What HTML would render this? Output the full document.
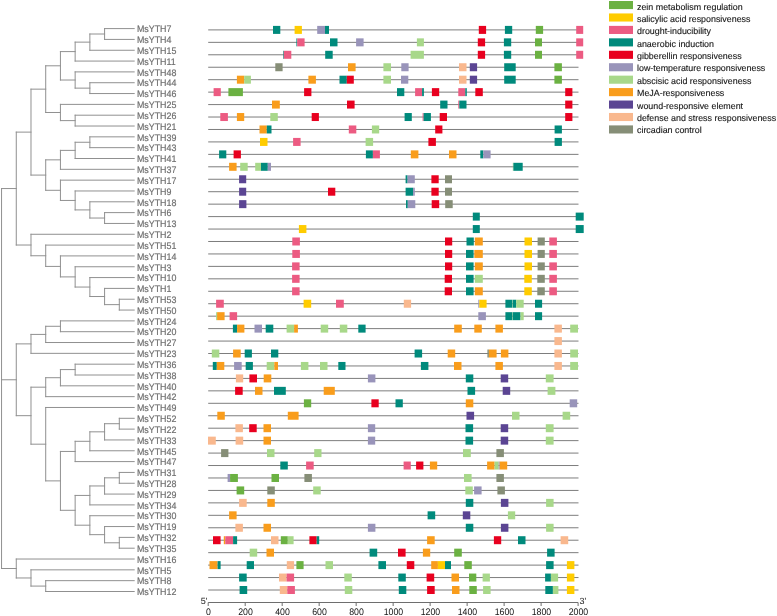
<!DOCTYPE html><html><head><meta charset="utf-8"><title>MsYTH cis-elements</title><style>html,body{margin:0;padding:0;background:#fff;width:777px;height:616px;overflow:hidden}svg{display:block}text{font-family:"Liberation Sans",Arial,sans-serif;text-rendering:geometricPrecision}</style></head><body>
<svg width="777" height="616" viewBox="0 0 777 616">
<rect width="777" height="616" fill="#fff"/>
<g stroke="#909090" stroke-width="1" fill="none" stroke-linecap="square">
<line x1="104.59" y1="28.60" x2="134.20" y2="28.60"/>
<line x1="104.59" y1="39.42" x2="134.20" y2="39.42"/>
<line x1="104.59" y1="28.60" x2="104.59" y2="39.42"/>
<line x1="89.87" y1="34.01" x2="104.59" y2="34.01"/>
<line x1="89.87" y1="50.25" x2="134.20" y2="50.25"/>
<line x1="89.87" y1="34.01" x2="89.87" y2="50.25"/>
<line x1="75.15" y1="42.13" x2="89.87" y2="42.13"/>
<line x1="75.15" y1="61.07" x2="134.20" y2="61.07"/>
<line x1="75.15" y1="42.13" x2="75.15" y2="61.07"/>
<line x1="60.43" y1="51.60" x2="75.15" y2="51.60"/>
<line x1="75.15" y1="71.90" x2="134.20" y2="71.90"/>
<line x1="89.87" y1="82.72" x2="134.20" y2="82.72"/>
<line x1="89.87" y1="93.55" x2="134.20" y2="93.55"/>
<line x1="89.87" y1="82.72" x2="89.87" y2="93.55"/>
<line x1="75.15" y1="88.14" x2="89.87" y2="88.14"/>
<line x1="75.15" y1="71.90" x2="75.15" y2="88.14"/>
<line x1="60.43" y1="80.02" x2="75.15" y2="80.02"/>
<line x1="60.43" y1="51.60" x2="60.43" y2="80.02"/>
<line x1="45.71" y1="65.81" x2="60.43" y2="65.81"/>
<line x1="60.43" y1="104.38" x2="134.20" y2="104.38"/>
<line x1="75.15" y1="115.20" x2="134.20" y2="115.20"/>
<line x1="75.15" y1="126.03" x2="134.20" y2="126.03"/>
<line x1="75.15" y1="115.20" x2="75.15" y2="126.03"/>
<line x1="60.43" y1="120.61" x2="75.15" y2="120.61"/>
<line x1="60.43" y1="104.38" x2="60.43" y2="120.61"/>
<line x1="45.71" y1="112.49" x2="60.43" y2="112.49"/>
<line x1="45.71" y1="65.81" x2="45.71" y2="112.49"/>
<line x1="30.99" y1="89.15" x2="45.71" y2="89.15"/>
<line x1="89.87" y1="136.85" x2="134.20" y2="136.85"/>
<line x1="89.87" y1="147.67" x2="134.20" y2="147.67"/>
<line x1="89.87" y1="136.85" x2="89.87" y2="147.67"/>
<line x1="75.15" y1="142.26" x2="89.87" y2="142.26"/>
<line x1="75.15" y1="158.50" x2="134.20" y2="158.50"/>
<line x1="75.15" y1="142.26" x2="75.15" y2="158.50"/>
<line x1="60.43" y1="150.38" x2="75.15" y2="150.38"/>
<line x1="60.43" y1="169.32" x2="134.20" y2="169.32"/>
<line x1="60.43" y1="150.38" x2="60.43" y2="169.32"/>
<line x1="45.71" y1="159.85" x2="60.43" y2="159.85"/>
<line x1="60.43" y1="180.15" x2="134.20" y2="180.15"/>
<line x1="75.15" y1="190.97" x2="134.20" y2="190.97"/>
<line x1="89.87" y1="201.80" x2="134.20" y2="201.80"/>
<line x1="104.59" y1="212.62" x2="134.20" y2="212.62"/>
<line x1="104.59" y1="223.45" x2="134.20" y2="223.45"/>
<line x1="104.59" y1="212.62" x2="104.59" y2="223.45"/>
<line x1="89.87" y1="218.04" x2="104.59" y2="218.04"/>
<line x1="89.87" y1="201.80" x2="89.87" y2="218.04"/>
<line x1="75.15" y1="209.92" x2="89.87" y2="209.92"/>
<line x1="75.15" y1="190.97" x2="75.15" y2="209.92"/>
<line x1="60.43" y1="200.45" x2="75.15" y2="200.45"/>
<line x1="60.43" y1="180.15" x2="60.43" y2="200.45"/>
<line x1="45.71" y1="190.30" x2="60.43" y2="190.30"/>
<line x1="45.71" y1="159.85" x2="45.71" y2="190.30"/>
<line x1="30.99" y1="175.08" x2="45.71" y2="175.08"/>
<line x1="30.99" y1="89.15" x2="30.99" y2="175.08"/>
<line x1="16.27" y1="132.11" x2="30.99" y2="132.11"/>
<line x1="30.99" y1="234.27" x2="134.20" y2="234.27"/>
<line x1="45.71" y1="245.10" x2="134.20" y2="245.10"/>
<line x1="60.43" y1="255.92" x2="134.20" y2="255.92"/>
<line x1="75.15" y1="266.75" x2="134.20" y2="266.75"/>
<line x1="89.87" y1="277.57" x2="134.20" y2="277.57"/>
<line x1="104.59" y1="288.40" x2="134.20" y2="288.40"/>
<line x1="119.31" y1="299.23" x2="134.20" y2="299.23"/>
<line x1="119.31" y1="310.05" x2="134.20" y2="310.05"/>
<line x1="119.31" y1="299.23" x2="119.31" y2="310.05"/>
<line x1="104.59" y1="304.64" x2="119.31" y2="304.64"/>
<line x1="104.59" y1="288.40" x2="104.59" y2="304.64"/>
<line x1="89.87" y1="296.52" x2="104.59" y2="296.52"/>
<line x1="89.87" y1="277.57" x2="89.87" y2="296.52"/>
<line x1="75.15" y1="287.05" x2="89.87" y2="287.05"/>
<line x1="75.15" y1="266.75" x2="75.15" y2="287.05"/>
<line x1="60.43" y1="276.90" x2="75.15" y2="276.90"/>
<line x1="60.43" y1="255.92" x2="60.43" y2="276.90"/>
<line x1="45.71" y1="266.41" x2="60.43" y2="266.41"/>
<line x1="45.71" y1="245.10" x2="45.71" y2="266.41"/>
<line x1="30.99" y1="255.76" x2="45.71" y2="255.76"/>
<line x1="30.99" y1="234.27" x2="30.99" y2="255.76"/>
<line x1="16.27" y1="245.02" x2="30.99" y2="245.02"/>
<line x1="16.27" y1="132.11" x2="16.27" y2="245.02"/>
<line x1="1.55" y1="188.56" x2="16.27" y2="188.56"/>
<line x1="60.43" y1="320.88" x2="134.20" y2="320.88"/>
<line x1="60.43" y1="331.70" x2="134.20" y2="331.70"/>
<line x1="60.43" y1="320.88" x2="60.43" y2="331.70"/>
<line x1="45.71" y1="326.29" x2="60.43" y2="326.29"/>
<line x1="45.71" y1="342.52" x2="134.20" y2="342.52"/>
<line x1="45.71" y1="326.29" x2="45.71" y2="342.52"/>
<line x1="30.99" y1="334.41" x2="45.71" y2="334.41"/>
<line x1="30.99" y1="353.35" x2="134.20" y2="353.35"/>
<line x1="30.99" y1="334.41" x2="30.99" y2="353.35"/>
<line x1="16.27" y1="343.88" x2="30.99" y2="343.88"/>
<line x1="75.15" y1="364.18" x2="134.20" y2="364.18"/>
<line x1="75.15" y1="375.00" x2="134.20" y2="375.00"/>
<line x1="75.15" y1="364.18" x2="75.15" y2="375.00"/>
<line x1="60.43" y1="369.59" x2="75.15" y2="369.59"/>
<line x1="60.43" y1="385.82" x2="134.20" y2="385.82"/>
<line x1="60.43" y1="369.59" x2="60.43" y2="385.82"/>
<line x1="45.71" y1="377.71" x2="60.43" y2="377.71"/>
<line x1="45.71" y1="396.65" x2="134.20" y2="396.65"/>
<line x1="45.71" y1="377.71" x2="45.71" y2="396.65"/>
<line x1="30.99" y1="387.18" x2="45.71" y2="387.18"/>
<line x1="45.71" y1="407.48" x2="134.20" y2="407.48"/>
<line x1="119.31" y1="418.30" x2="134.20" y2="418.30"/>
<line x1="119.31" y1="429.12" x2="134.20" y2="429.12"/>
<line x1="119.31" y1="418.30" x2="119.31" y2="429.12"/>
<line x1="104.59" y1="423.71" x2="119.31" y2="423.71"/>
<line x1="104.59" y1="439.95" x2="134.20" y2="439.95"/>
<line x1="104.59" y1="423.71" x2="104.59" y2="439.95"/>
<line x1="89.87" y1="431.83" x2="104.59" y2="431.83"/>
<line x1="89.87" y1="450.77" x2="134.20" y2="450.77"/>
<line x1="89.87" y1="431.83" x2="89.87" y2="450.77"/>
<line x1="75.15" y1="441.30" x2="89.87" y2="441.30"/>
<line x1="75.15" y1="461.60" x2="134.20" y2="461.60"/>
<line x1="75.15" y1="441.30" x2="75.15" y2="461.60"/>
<line x1="60.43" y1="451.45" x2="75.15" y2="451.45"/>
<line x1="119.31" y1="472.43" x2="134.20" y2="472.43"/>
<line x1="119.31" y1="483.25" x2="134.20" y2="483.25"/>
<line x1="119.31" y1="472.43" x2="119.31" y2="483.25"/>
<line x1="104.59" y1="477.84" x2="119.31" y2="477.84"/>
<line x1="104.59" y1="494.07" x2="134.20" y2="494.07"/>
<line x1="104.59" y1="477.84" x2="104.59" y2="494.07"/>
<line x1="89.87" y1="485.96" x2="104.59" y2="485.96"/>
<line x1="89.87" y1="504.90" x2="134.20" y2="504.90"/>
<line x1="89.87" y1="485.96" x2="89.87" y2="504.90"/>
<line x1="75.15" y1="495.43" x2="89.87" y2="495.43"/>
<line x1="89.87" y1="515.72" x2="134.20" y2="515.72"/>
<line x1="104.59" y1="526.55" x2="134.20" y2="526.55"/>
<line x1="119.31" y1="537.38" x2="134.20" y2="537.38"/>
<line x1="119.31" y1="548.20" x2="134.20" y2="548.20"/>
<line x1="119.31" y1="537.38" x2="119.31" y2="548.20"/>
<line x1="104.59" y1="542.79" x2="119.31" y2="542.79"/>
<line x1="104.59" y1="526.55" x2="104.59" y2="542.79"/>
<line x1="89.87" y1="534.67" x2="104.59" y2="534.67"/>
<line x1="89.87" y1="515.72" x2="89.87" y2="534.67"/>
<line x1="75.15" y1="525.20" x2="89.87" y2="525.20"/>
<line x1="75.15" y1="495.43" x2="75.15" y2="525.20"/>
<line x1="60.43" y1="510.31" x2="75.15" y2="510.31"/>
<line x1="60.43" y1="451.45" x2="60.43" y2="510.31"/>
<line x1="45.71" y1="480.88" x2="60.43" y2="480.88"/>
<line x1="45.71" y1="407.48" x2="45.71" y2="480.88"/>
<line x1="30.99" y1="444.18" x2="45.71" y2="444.18"/>
<line x1="30.99" y1="387.18" x2="30.99" y2="444.18"/>
<line x1="16.27" y1="415.68" x2="30.99" y2="415.68"/>
<line x1="16.27" y1="343.88" x2="16.27" y2="415.68"/>
<line x1="1.55" y1="379.78" x2="16.27" y2="379.78"/>
<line x1="16.27" y1="559.02" x2="134.20" y2="559.02"/>
<line x1="30.99" y1="569.85" x2="134.20" y2="569.85"/>
<line x1="45.71" y1="580.67" x2="134.20" y2="580.67"/>
<line x1="45.71" y1="591.50" x2="134.20" y2="591.50"/>
<line x1="45.71" y1="580.67" x2="45.71" y2="591.50"/>
<line x1="30.99" y1="586.09" x2="45.71" y2="586.09"/>
<line x1="30.99" y1="569.85" x2="30.99" y2="586.09"/>
<line x1="16.27" y1="577.97" x2="30.99" y2="577.97"/>
<line x1="16.27" y1="559.02" x2="16.27" y2="577.97"/>
<line x1="1.55" y1="568.50" x2="16.27" y2="568.50"/>
<line x1="1.55" y1="188.56" x2="1.55" y2="568.50"/>
</g>
<g fill="#6e6e6e" stroke="#6e6e6e" stroke-width="0.18" font-size="8.9">
<text transform="translate(136.9,32.35) scale(1,1.06)">MsYTH7</text>
<text transform="translate(136.9,43.17) scale(1,1.06)">MsYTH4</text>
<text transform="translate(136.9,54.00) scale(1,1.06)">MsYTH15</text>
<text transform="translate(136.9,64.82) scale(1,1.06)">MsYTH11</text>
<text transform="translate(136.9,75.65) scale(1,1.06)">MsYTH48</text>
<text transform="translate(136.9,86.47) scale(1,1.06)">MsYTH44</text>
<text transform="translate(136.9,97.30) scale(1,1.06)">MsYTH46</text>
<text transform="translate(136.9,108.12) scale(1,1.06)">MsYTH25</text>
<text transform="translate(136.9,118.95) scale(1,1.06)">MsYTH26</text>
<text transform="translate(136.9,129.78) scale(1,1.06)">MsYTH21</text>
<text transform="translate(136.9,140.60) scale(1,1.06)">MsYTH39</text>
<text transform="translate(136.9,151.42) scale(1,1.06)">MsYTH43</text>
<text transform="translate(136.9,162.25) scale(1,1.06)">MsYTH41</text>
<text transform="translate(136.9,173.07) scale(1,1.06)">MsYTH37</text>
<text transform="translate(136.9,183.90) scale(1,1.06)">MsYTH17</text>
<text transform="translate(136.9,194.72) scale(1,1.06)">MsYTH9</text>
<text transform="translate(136.9,205.55) scale(1,1.06)">MsYTH18</text>
<text transform="translate(136.9,216.37) scale(1,1.06)">MsYTH6</text>
<text transform="translate(136.9,227.20) scale(1,1.06)">MsYTH13</text>
<text transform="translate(136.9,238.02) scale(1,1.06)">MsYTH2</text>
<text transform="translate(136.9,248.85) scale(1,1.06)">MsYTH51</text>
<text transform="translate(136.9,259.67) scale(1,1.06)">MsYTH14</text>
<text transform="translate(136.9,270.50) scale(1,1.06)">MsYTH3</text>
<text transform="translate(136.9,281.32) scale(1,1.06)">MsYTH10</text>
<text transform="translate(136.9,292.15) scale(1,1.06)">MsYTH1</text>
<text transform="translate(136.9,302.98) scale(1,1.06)">MsYTH53</text>
<text transform="translate(136.9,313.80) scale(1,1.06)">MsYTH50</text>
<text transform="translate(136.9,324.62) scale(1,1.06)">MsYTH24</text>
<text transform="translate(136.9,335.45) scale(1,1.06)">MsYTH20</text>
<text transform="translate(136.9,346.27) scale(1,1.06)">MsYTH27</text>
<text transform="translate(136.9,357.10) scale(1,1.06)">MsYTH23</text>
<text transform="translate(136.9,367.93) scale(1,1.06)">MsYTH36</text>
<text transform="translate(136.9,378.75) scale(1,1.06)">MsYTH38</text>
<text transform="translate(136.9,389.57) scale(1,1.06)">MsYTH40</text>
<text transform="translate(136.9,400.40) scale(1,1.06)">MsYTH42</text>
<text transform="translate(136.9,411.23) scale(1,1.06)">MsYTH49</text>
<text transform="translate(136.9,422.05) scale(1,1.06)">MsYTH52</text>
<text transform="translate(136.9,432.88) scale(1,1.06)">MsYTH22</text>
<text transform="translate(136.9,443.70) scale(1,1.06)">MsYTH33</text>
<text transform="translate(136.9,454.52) scale(1,1.06)">MsYTH45</text>
<text transform="translate(136.9,465.35) scale(1,1.06)">MsYTH47</text>
<text transform="translate(136.9,476.18) scale(1,1.06)">MsYTH31</text>
<text transform="translate(136.9,487.00) scale(1,1.06)">MsYTH28</text>
<text transform="translate(136.9,497.82) scale(1,1.06)">MsYTH29</text>
<text transform="translate(136.9,508.65) scale(1,1.06)">MsYTH34</text>
<text transform="translate(136.9,519.47) scale(1,1.06)">MsYTH30</text>
<text transform="translate(136.9,530.30) scale(1,1.06)">MsYTH19</text>
<text transform="translate(136.9,541.12) scale(1,1.06)">MsYTH32</text>
<text transform="translate(136.9,551.95) scale(1,1.06)">MsYTH35</text>
<text transform="translate(136.9,562.77) scale(1,1.06)">MsYTH16</text>
<text transform="translate(136.9,573.60) scale(1,1.06)">MsYTH5</text>
<text transform="translate(136.9,584.42) scale(1,1.06)">MsYTH8</text>
<text transform="translate(136.9,595.25) scale(1,1.06)">MsYTH12</text>
</g>
<g stroke="#7d7d7d" stroke-width="1">
<line x1="208.2" y1="29.90" x2="578.5" y2="29.90"/>
<line x1="208.2" y1="42.35" x2="578.5" y2="42.35"/>
<line x1="208.2" y1="54.79" x2="578.5" y2="54.79"/>
<line x1="208.2" y1="67.24" x2="578.5" y2="67.24"/>
<line x1="208.2" y1="79.69" x2="578.5" y2="79.69"/>
<line x1="208.2" y1="92.13" x2="578.5" y2="92.13"/>
<line x1="208.2" y1="104.58" x2="578.5" y2="104.58"/>
<line x1="208.2" y1="117.03" x2="578.5" y2="117.03"/>
<line x1="208.2" y1="129.47" x2="578.5" y2="129.47"/>
<line x1="208.2" y1="141.92" x2="578.5" y2="141.92"/>
<line x1="208.2" y1="154.37" x2="578.5" y2="154.37"/>
<line x1="208.2" y1="166.81" x2="578.5" y2="166.81"/>
<line x1="208.2" y1="179.26" x2="578.5" y2="179.26"/>
<line x1="208.2" y1="191.71" x2="578.5" y2="191.71"/>
<line x1="208.2" y1="204.15" x2="578.5" y2="204.15"/>
<line x1="208.2" y1="216.60" x2="578.5" y2="216.60"/>
<line x1="208.2" y1="229.05" x2="578.5" y2="229.05"/>
<line x1="208.2" y1="241.49" x2="578.5" y2="241.49"/>
<line x1="208.2" y1="253.94" x2="578.5" y2="253.94"/>
<line x1="208.2" y1="266.39" x2="578.5" y2="266.39"/>
<line x1="208.2" y1="278.83" x2="578.5" y2="278.83"/>
<line x1="208.2" y1="291.28" x2="578.5" y2="291.28"/>
<line x1="208.2" y1="303.73" x2="578.5" y2="303.73"/>
<line x1="208.2" y1="316.17" x2="578.5" y2="316.17"/>
<line x1="208.2" y1="328.62" x2="578.5" y2="328.62"/>
<line x1="208.2" y1="341.07" x2="578.5" y2="341.07"/>
<line x1="208.2" y1="353.51" x2="578.5" y2="353.51"/>
<line x1="208.2" y1="365.96" x2="578.5" y2="365.96"/>
<line x1="208.2" y1="378.41" x2="578.5" y2="378.41"/>
<line x1="208.2" y1="390.85" x2="578.5" y2="390.85"/>
<line x1="208.2" y1="403.30" x2="578.5" y2="403.30"/>
<line x1="208.2" y1="415.75" x2="578.5" y2="415.75"/>
<line x1="208.2" y1="428.19" x2="578.5" y2="428.19"/>
<line x1="208.2" y1="440.64" x2="578.5" y2="440.64"/>
<line x1="208.2" y1="453.09" x2="578.5" y2="453.09"/>
<line x1="208.2" y1="465.53" x2="578.5" y2="465.53"/>
<line x1="208.2" y1="477.98" x2="578.5" y2="477.98"/>
<line x1="208.2" y1="490.43" x2="578.5" y2="490.43"/>
<line x1="208.2" y1="502.87" x2="578.5" y2="502.87"/>
<line x1="208.2" y1="515.32" x2="578.5" y2="515.32"/>
<line x1="208.2" y1="527.77" x2="578.5" y2="527.77"/>
<line x1="208.2" y1="540.21" x2="578.5" y2="540.21"/>
<line x1="208.2" y1="552.66" x2="578.5" y2="552.66"/>
<line x1="208.2" y1="565.11" x2="578.5" y2="565.11"/>
<line x1="208.2" y1="577.55" x2="578.5" y2="577.55"/>
<line x1="208.2" y1="590.00" x2="578.5" y2="590.00"/>
</g>
<g>
<rect x="273.0" y="25.90" width="7.3" height="8.0" fill="#008a7c"/>
<rect x="294.6" y="25.90" width="7.3" height="8.0" fill="#ffcc00"/>
<rect x="317.2" y="25.90" width="7.8" height="8.0" fill="#9994ba"/>
<rect x="325.0" y="25.90" width="4.0" height="8.0" fill="#008a7c"/>
<rect x="478.8" y="25.90" width="7.3" height="8.0" fill="#e8001f"/>
<rect x="504.9" y="25.90" width="7.3" height="8.0" fill="#008a7c"/>
<rect x="535.8" y="25.90" width="7.3" height="8.0" fill="#6bb142"/>
<rect x="576.2" y="25.90" width="7.0" height="8.0" fill="#ec5b82"/>
<rect x="296.4" y="38.35" width="0.8" height="8.0" fill="#008a7c"/>
<rect x="297.2" y="38.35" width="7.4" height="8.0" fill="#ec5b82"/>
<rect x="330.0" y="38.35" width="7.5" height="8.0" fill="#008a7c"/>
<rect x="356.1" y="38.35" width="7.5" height="8.0" fill="#9994ba"/>
<rect x="416.9" y="38.35" width="7.0" height="8.0" fill="#a8d88a"/>
<rect x="477.8" y="38.35" width="7.3" height="8.0" fill="#e8001f"/>
<rect x="503.9" y="38.35" width="7.3" height="8.0" fill="#008a7c"/>
<rect x="535.0" y="38.35" width="7.0" height="8.0" fill="#6bb142"/>
<rect x="576.2" y="38.35" width="7.0" height="8.0" fill="#ec5b82"/>
<rect x="283.1" y="50.79" width="0.7" height="8.0" fill="#008a7c"/>
<rect x="283.8" y="50.79" width="7.5" height="8.0" fill="#ec5b82"/>
<rect x="325.2" y="50.79" width="7.5" height="8.0" fill="#008a7c"/>
<rect x="410.6" y="50.79" width="13.3" height="8.0" fill="#a8d88a"/>
<rect x="477.8" y="50.79" width="7.3" height="8.0" fill="#e8001f"/>
<rect x="503.9" y="50.79" width="7.3" height="8.0" fill="#008a7c"/>
<rect x="535.0" y="50.79" width="7.0" height="8.0" fill="#6bb142"/>
<rect x="576.2" y="50.79" width="7.0" height="8.0" fill="#ec5b82"/>
<rect x="275.3" y="63.24" width="7.3" height="8.0" fill="#868e77"/>
<rect x="348.0" y="63.24" width="7.6" height="8.0" fill="#f99d1c"/>
<rect x="383.4" y="63.24" width="7.6" height="8.0" fill="#a8d88a"/>
<rect x="401.3" y="63.24" width="7.3" height="8.0" fill="#9994ba"/>
<rect x="459.0" y="63.24" width="7.5" height="8.0" fill="#f9b88e"/>
<rect x="469.8" y="63.24" width="7.3" height="8.0" fill="#5b4593"/>
<rect x="504.2" y="63.24" width="11.5" height="8.0" fill="#008a7c"/>
<rect x="554.4" y="63.24" width="7.5" height="8.0" fill="#6bb142"/>
<rect x="236.9" y="75.69" width="7.3" height="8.0" fill="#f99d1c"/>
<rect x="244.2" y="75.69" width="6.7" height="8.0" fill="#a8d88a"/>
<rect x="308.4" y="75.69" width="7.5" height="8.0" fill="#f99d1c"/>
<rect x="339.5" y="75.69" width="7.3" height="8.0" fill="#008a7c"/>
<rect x="346.8" y="75.69" width="7.0" height="8.0" fill="#e8001f"/>
<rect x="383.4" y="75.69" width="7.6" height="8.0" fill="#a8d88a"/>
<rect x="401.0" y="75.69" width="7.3" height="8.0" fill="#9994ba"/>
<rect x="459.0" y="75.69" width="7.5" height="8.0" fill="#f9b88e"/>
<rect x="469.8" y="75.69" width="7.3" height="8.0" fill="#5b4593"/>
<rect x="504.2" y="75.69" width="11.5" height="8.0" fill="#008a7c"/>
<rect x="554.4" y="75.69" width="7.5" height="8.0" fill="#6bb142"/>
<rect x="213.6" y="88.13" width="7.2" height="8.0" fill="#ec5b82"/>
<rect x="228.4" y="88.13" width="14.5" height="8.0" fill="#6bb142"/>
<rect x="304.1" y="88.13" width="7.3" height="8.0" fill="#e8001f"/>
<rect x="397.0" y="88.13" width="7.3" height="8.0" fill="#008a7c"/>
<rect x="415.1" y="88.13" width="7.0" height="8.0" fill="#ec5b82"/>
<rect x="422.1" y="88.13" width="1.8" height="8.0" fill="#008a7c"/>
<rect x="431.9" y="88.13" width="7.3" height="8.0" fill="#e8001f"/>
<rect x="458.3" y="88.13" width="7.0" height="8.0" fill="#ec5b82"/>
<rect x="465.3" y="88.13" width="1.5" height="8.0" fill="#008a7c"/>
<rect x="475.3" y="88.13" width="7.5" height="8.0" fill="#e8001f"/>
<rect x="565.2" y="88.13" width="7.2" height="8.0" fill="#e8001f"/>
<rect x="272.0" y="100.58" width="7.8" height="8.0" fill="#f99d1c"/>
<rect x="347.0" y="100.58" width="7.6" height="8.0" fill="#e8001f"/>
<rect x="440.2" y="100.58" width="7.3" height="8.0" fill="#008a7c"/>
<rect x="458.3" y="100.58" width="1.0" height="8.0" fill="#ec5b82"/>
<rect x="459.3" y="100.58" width="7.2" height="8.0" fill="#008a7c"/>
<rect x="565.2" y="100.58" width="7.2" height="8.0" fill="#e8001f"/>
<rect x="220.3" y="113.03" width="7.6" height="8.0" fill="#ec5b82"/>
<rect x="236.9" y="113.03" width="7.3" height="8.0" fill="#f99d1c"/>
<rect x="270.3" y="113.03" width="7.5" height="8.0" fill="#a8d88a"/>
<rect x="311.7" y="113.03" width="7.2" height="8.0" fill="#e8001f"/>
<rect x="404.6" y="113.03" width="7.2" height="8.0" fill="#008a7c"/>
<rect x="422.6" y="113.03" width="1.0" height="8.0" fill="#ec5b82"/>
<rect x="423.6" y="113.03" width="7.3" height="8.0" fill="#008a7c"/>
<rect x="439.7" y="113.03" width="7.3" height="8.0" fill="#e8001f"/>
<rect x="565.2" y="113.03" width="7.2" height="8.0" fill="#e8001f"/>
<rect x="259.5" y="125.47" width="7.3" height="8.0" fill="#f99d1c"/>
<rect x="266.8" y="125.47" width="4.7" height="8.0" fill="#008a7c"/>
<rect x="348.8" y="125.47" width="7.5" height="8.0" fill="#ec5b82"/>
<rect x="371.9" y="125.47" width="7.3" height="8.0" fill="#a8d88a"/>
<rect x="435.2" y="125.47" width="7.2" height="8.0" fill="#e8001f"/>
<rect x="554.6" y="125.47" width="7.3" height="8.0" fill="#008a7c"/>
<rect x="260.0" y="137.92" width="7.5" height="8.0" fill="#ffcc00"/>
<rect x="293.1" y="137.92" width="7.5" height="8.0" fill="#ec5b82"/>
<rect x="365.6" y="137.92" width="7.5" height="8.0" fill="#a8d88a"/>
<rect x="428.4" y="137.92" width="7.5" height="8.0" fill="#e8001f"/>
<rect x="554.6" y="137.92" width="7.3" height="8.0" fill="#008a7c"/>
<rect x="219.1" y="150.37" width="7.2" height="8.0" fill="#008a7c"/>
<rect x="233.6" y="150.37" width="7.3" height="8.0" fill="#e8001f"/>
<rect x="365.9" y="150.37" width="7.0" height="8.0" fill="#008a7c"/>
<rect x="372.9" y="150.37" width="7.0" height="8.0" fill="#ec5b82"/>
<rect x="410.8" y="150.37" width="7.6" height="8.0" fill="#f99d1c"/>
<rect x="449.0" y="150.37" width="7.5" height="8.0" fill="#f99d1c"/>
<rect x="480.3" y="150.37" width="3.0" height="8.0" fill="#008a7c"/>
<rect x="483.3" y="150.37" width="7.3" height="8.0" fill="#9994ba"/>
<rect x="229.1" y="162.81" width="7.5" height="8.0" fill="#f99d1c"/>
<rect x="240.2" y="162.81" width="7.5" height="8.0" fill="#a8d88a"/>
<rect x="255.2" y="162.81" width="5.8" height="8.0" fill="#a8d88a"/>
<rect x="261.0" y="162.81" width="6.8" height="8.0" fill="#008a7c"/>
<rect x="267.8" y="162.81" width="3.2" height="8.0" fill="#9994ba"/>
<rect x="512.8" y="162.81" width="0.6" height="8.0" fill="#a8d88a"/>
<rect x="513.4" y="162.81" width="9.3" height="8.0" fill="#008a7c"/>
<rect x="239.1" y="175.26" width="7.1" height="8.0" fill="#5b4593"/>
<rect x="405.6" y="175.26" width="2.0" height="8.0" fill="#008a7c"/>
<rect x="407.6" y="175.26" width="7.2" height="8.0" fill="#9994ba"/>
<rect x="431.4" y="175.26" width="7.3" height="8.0" fill="#e8001f"/>
<rect x="445.0" y="175.26" width="7.0" height="8.0" fill="#868e77"/>
<rect x="239.1" y="187.71" width="7.1" height="8.0" fill="#5b4593"/>
<rect x="328.0" y="187.71" width="7.3" height="8.0" fill="#e8001f"/>
<rect x="405.6" y="187.71" width="7.5" height="8.0" fill="#008a7c"/>
<rect x="413.1" y="187.71" width="1.7" height="8.0" fill="#9994ba"/>
<rect x="431.4" y="187.71" width="7.3" height="8.0" fill="#e8001f"/>
<rect x="445.0" y="187.71" width="7.0" height="8.0" fill="#868e77"/>
<rect x="239.1" y="200.15" width="7.3" height="8.0" fill="#5b4593"/>
<rect x="406.0" y="200.15" width="1.8" height="8.0" fill="#008a7c"/>
<rect x="407.8" y="200.15" width="7.5" height="8.0" fill="#9994ba"/>
<rect x="431.7" y="200.15" width="7.5" height="8.0" fill="#e8001f"/>
<rect x="445.2" y="200.15" width="7.5" height="8.0" fill="#868e77"/>
<rect x="472.8" y="212.60" width="7.0" height="8.0" fill="#008a7c"/>
<rect x="575.7" y="212.60" width="8.0" height="8.0" fill="#008a7c"/>
<rect x="298.9" y="225.05" width="7.5" height="8.0" fill="#ffcc00"/>
<rect x="472.8" y="225.05" width="7.0" height="8.0" fill="#008a7c"/>
<rect x="575.7" y="225.05" width="8.0" height="8.0" fill="#008a7c"/>
<rect x="292.3" y="237.49" width="7.6" height="8.0" fill="#ec5b82"/>
<rect x="445.0" y="237.49" width="7.2" height="8.0" fill="#e8001f"/>
<rect x="466.5" y="237.49" width="7.3" height="8.0" fill="#008a7c"/>
<rect x="474.8" y="237.49" width="8.0" height="8.0" fill="#f99d1c"/>
<rect x="524.5" y="237.49" width="7.5" height="8.0" fill="#ffcc00"/>
<rect x="537.6" y="237.49" width="7.2" height="8.0" fill="#868e77"/>
<rect x="549.3" y="237.49" width="7.6" height="8.0" fill="#ec5b82"/>
<rect x="292.3" y="249.94" width="7.6" height="8.0" fill="#ec5b82"/>
<rect x="445.0" y="249.94" width="7.2" height="8.0" fill="#e8001f"/>
<rect x="466.0" y="249.94" width="7.6" height="8.0" fill="#008a7c"/>
<rect x="474.3" y="249.94" width="8.5" height="8.0" fill="#f99d1c"/>
<rect x="524.5" y="249.94" width="7.5" height="8.0" fill="#ffcc00"/>
<rect x="537.6" y="249.94" width="7.2" height="8.0" fill="#868e77"/>
<rect x="549.3" y="249.94" width="7.6" height="8.0" fill="#ec5b82"/>
<rect x="292.1" y="262.39" width="7.5" height="8.0" fill="#ec5b82"/>
<rect x="445.0" y="262.39" width="7.2" height="8.0" fill="#e8001f"/>
<rect x="466.0" y="262.39" width="7.6" height="8.0" fill="#008a7c"/>
<rect x="474.8" y="262.39" width="8.0" height="8.0" fill="#f99d1c"/>
<rect x="524.5" y="262.39" width="7.5" height="8.0" fill="#ffcc00"/>
<rect x="537.6" y="262.39" width="7.2" height="8.0" fill="#868e77"/>
<rect x="549.3" y="262.39" width="7.6" height="8.0" fill="#ec5b82"/>
<rect x="292.1" y="274.83" width="7.5" height="8.0" fill="#ec5b82"/>
<rect x="444.7" y="274.83" width="7.3" height="8.0" fill="#e8001f"/>
<rect x="466.0" y="274.83" width="7.6" height="8.0" fill="#008a7c"/>
<rect x="474.8" y="274.83" width="8.0" height="8.0" fill="#a8d88a"/>
<rect x="524.3" y="274.83" width="7.5" height="8.0" fill="#ffcc00"/>
<rect x="537.3" y="274.83" width="7.5" height="8.0" fill="#868e77"/>
<rect x="549.3" y="274.83" width="7.6" height="8.0" fill="#ec5b82"/>
<rect x="292.1" y="287.28" width="7.5" height="8.0" fill="#ec5b82"/>
<rect x="444.7" y="287.28" width="7.3" height="8.0" fill="#e8001f"/>
<rect x="466.0" y="287.28" width="7.6" height="8.0" fill="#008a7c"/>
<rect x="474.8" y="287.28" width="8.0" height="8.0" fill="#f99d1c"/>
<rect x="524.3" y="287.28" width="7.5" height="8.0" fill="#ffcc00"/>
<rect x="537.3" y="287.28" width="7.5" height="8.0" fill="#868e77"/>
<rect x="549.3" y="287.28" width="7.6" height="8.0" fill="#ec5b82"/>
<rect x="216.1" y="299.73" width="7.7" height="8.0" fill="#ec5b82"/>
<rect x="303.6" y="299.73" width="7.6" height="8.0" fill="#ffcc00"/>
<rect x="336.0" y="299.73" width="7.8" height="8.0" fill="#ec5b82"/>
<rect x="403.8" y="299.73" width="7.3" height="8.0" fill="#f9b88e"/>
<rect x="478.3" y="299.73" width="1.0" height="8.0" fill="#9994ba"/>
<rect x="479.3" y="299.73" width="7.3" height="8.0" fill="#ffcc00"/>
<rect x="505.4" y="299.73" width="6.9" height="8.0" fill="#008a7c"/>
<rect x="512.3" y="299.73" width="0.4" height="8.0" fill="#a8d88a"/>
<rect x="512.7" y="299.73" width="3.5" height="8.0" fill="#008a7c"/>
<rect x="516.2" y="299.73" width="7.5" height="8.0" fill="#a8d88a"/>
<rect x="535.0" y="299.73" width="7.1" height="8.0" fill="#008a7c"/>
<rect x="216.1" y="312.17" width="1.0" height="8.0" fill="#a8d88a"/>
<rect x="217.1" y="312.17" width="7.5" height="8.0" fill="#f99d1c"/>
<rect x="229.6" y="312.17" width="7.5" height="8.0" fill="#ec5b82"/>
<rect x="478.3" y="312.17" width="7.6" height="8.0" fill="#9994ba"/>
<rect x="505.4" y="312.17" width="6.9" height="8.0" fill="#008a7c"/>
<rect x="512.3" y="312.17" width="0.4" height="8.0" fill="#a8d88a"/>
<rect x="512.7" y="312.17" width="7.8" height="8.0" fill="#008a7c"/>
<rect x="520.5" y="312.17" width="3.2" height="8.0" fill="#a8d88a"/>
<rect x="535.0" y="312.17" width="7.1" height="8.0" fill="#008a7c"/>
<rect x="232.9" y="324.62" width="4.2" height="8.0" fill="#008a7c"/>
<rect x="237.1" y="324.62" width="7.3" height="8.0" fill="#f99d1c"/>
<rect x="254.5" y="324.62" width="7.5" height="8.0" fill="#9994ba"/>
<rect x="265.7" y="324.62" width="7.6" height="8.0" fill="#008a7c"/>
<rect x="286.6" y="324.62" width="7.5" height="8.0" fill="#a8d88a"/>
<rect x="294.1" y="324.62" width="3.8" height="8.0" fill="#f99d1c"/>
<rect x="320.7" y="324.62" width="7.5" height="8.0" fill="#a8d88a"/>
<rect x="339.8" y="324.62" width="7.5" height="8.0" fill="#a8d88a"/>
<rect x="358.3" y="324.62" width="7.3" height="8.0" fill="#008a7c"/>
<rect x="454.2" y="324.62" width="7.6" height="8.0" fill="#f99d1c"/>
<rect x="474.3" y="324.62" width="7.5" height="8.0" fill="#f99d1c"/>
<rect x="495.4" y="324.62" width="7.5" height="8.0" fill="#f99d1c"/>
<rect x="554.4" y="324.62" width="7.5" height="8.0" fill="#f9b88e"/>
<rect x="570.2" y="324.62" width="7.8" height="8.0" fill="#a8d88a"/>
<rect x="554.4" y="337.07" width="7.5" height="8.0" fill="#f9b88e"/>
<rect x="211.8" y="349.51" width="7.5" height="8.0" fill="#a8d88a"/>
<rect x="233.1" y="349.51" width="7.6" height="8.0" fill="#f99d1c"/>
<rect x="244.7" y="349.51" width="7.2" height="8.0" fill="#008a7c"/>
<rect x="271.0" y="349.51" width="7.3" height="8.0" fill="#008a7c"/>
<rect x="414.6" y="349.51" width="7.5" height="8.0" fill="#008a7c"/>
<rect x="447.7" y="349.51" width="7.5" height="8.0" fill="#f99d1c"/>
<rect x="487.4" y="349.51" width="1.5" height="8.0" fill="#868e77"/>
<rect x="488.9" y="349.51" width="7.7" height="8.0" fill="#f99d1c"/>
<rect x="500.9" y="349.51" width="7.5" height="8.0" fill="#f99d1c"/>
<rect x="554.4" y="349.51" width="7.5" height="8.0" fill="#f9b88e"/>
<rect x="570.2" y="349.51" width="7.8" height="8.0" fill="#a8d88a"/>
<rect x="212.8" y="361.96" width="4.0" height="8.0" fill="#008a7c"/>
<rect x="216.8" y="361.96" width="7.5" height="8.0" fill="#f99d1c"/>
<rect x="234.1" y="361.96" width="7.6" height="8.0" fill="#9994ba"/>
<rect x="245.7" y="361.96" width="7.2" height="8.0" fill="#008a7c"/>
<rect x="266.7" y="361.96" width="7.6" height="8.0" fill="#a8d88a"/>
<rect x="274.3" y="361.96" width="3.7" height="8.0" fill="#f99d1c"/>
<rect x="300.9" y="361.96" width="7.5" height="8.0" fill="#a8d88a"/>
<rect x="320.0" y="361.96" width="7.5" height="8.0" fill="#a8d88a"/>
<rect x="338.3" y="361.96" width="7.2" height="8.0" fill="#008a7c"/>
<rect x="420.9" y="361.96" width="7.5" height="8.0" fill="#008a7c"/>
<rect x="454.0" y="361.96" width="7.5" height="8.0" fill="#f99d1c"/>
<rect x="495.4" y="361.96" width="7.5" height="8.0" fill="#f99d1c"/>
<rect x="554.4" y="361.96" width="7.5" height="8.0" fill="#f9b88e"/>
<rect x="570.2" y="361.96" width="7.8" height="8.0" fill="#a8d88a"/>
<rect x="235.9" y="374.41" width="7.3" height="8.0" fill="#f9b88e"/>
<rect x="249.4" y="374.41" width="7.6" height="8.0" fill="#e8001f"/>
<rect x="263.7" y="374.41" width="7.6" height="8.0" fill="#f99d1c"/>
<rect x="367.9" y="374.41" width="7.5" height="8.0" fill="#9994ba"/>
<rect x="465.8" y="374.41" width="7.5" height="8.0" fill="#008a7c"/>
<rect x="500.7" y="374.41" width="7.5" height="8.0" fill="#5b4593"/>
<rect x="545.8" y="374.41" width="7.8" height="8.0" fill="#a8d88a"/>
<rect x="235.1" y="386.85" width="7.6" height="8.0" fill="#e8001f"/>
<rect x="255.0" y="386.85" width="7.5" height="8.0" fill="#f99d1c"/>
<rect x="274.0" y="386.85" width="11.8" height="8.0" fill="#008a7c"/>
<rect x="323.7" y="386.85" width="11.1" height="8.0" fill="#f99d1c"/>
<rect x="467.5" y="386.85" width="7.6" height="8.0" fill="#008a7c"/>
<rect x="502.7" y="386.85" width="7.5" height="8.0" fill="#5b4593"/>
<rect x="547.6" y="386.85" width="7.8" height="8.0" fill="#a8d88a"/>
<rect x="303.9" y="399.30" width="7.3" height="8.0" fill="#6bb142"/>
<rect x="371.4" y="399.30" width="7.3" height="8.0" fill="#e8001f"/>
<rect x="395.5" y="399.30" width="7.3" height="8.0" fill="#008a7c"/>
<rect x="465.8" y="399.30" width="7.5" height="8.0" fill="#f99d1c"/>
<rect x="569.7" y="399.30" width="7.5" height="8.0" fill="#9994ba"/>
<rect x="217.3" y="411.75" width="7.5" height="8.0" fill="#f99d1c"/>
<rect x="287.8" y="411.75" width="10.8" height="8.0" fill="#f99d1c"/>
<rect x="466.5" y="411.75" width="7.6" height="8.0" fill="#5b4593"/>
<rect x="512.0" y="411.75" width="7.5" height="8.0" fill="#a8d88a"/>
<rect x="562.6" y="411.75" width="7.6" height="8.0" fill="#a8d88a"/>
<rect x="235.4" y="424.19" width="7.5" height="8.0" fill="#f9b88e"/>
<rect x="249.2" y="424.19" width="7.5" height="8.0" fill="#e8001f"/>
<rect x="263.5" y="424.19" width="7.5" height="8.0" fill="#f99d1c"/>
<rect x="367.9" y="424.19" width="7.3" height="8.0" fill="#9994ba"/>
<rect x="465.5" y="424.19" width="7.6" height="8.0" fill="#008a7c"/>
<rect x="500.7" y="424.19" width="7.5" height="8.0" fill="#5b4593"/>
<rect x="545.8" y="424.19" width="7.8" height="8.0" fill="#a8d88a"/>
<rect x="208.0" y="436.64" width="7.8" height="8.0" fill="#f9b88e"/>
<rect x="235.6" y="436.64" width="7.6" height="8.0" fill="#f9b88e"/>
<rect x="263.5" y="436.64" width="7.5" height="8.0" fill="#f99d1c"/>
<rect x="367.9" y="436.64" width="7.3" height="8.0" fill="#9994ba"/>
<rect x="465.5" y="436.64" width="7.6" height="8.0" fill="#008a7c"/>
<rect x="500.7" y="436.64" width="7.5" height="8.0" fill="#5b4593"/>
<rect x="545.8" y="436.64" width="7.8" height="8.0" fill="#a8d88a"/>
<rect x="221.1" y="449.09" width="7.3" height="8.0" fill="#868e77"/>
<rect x="267.0" y="449.09" width="7.5" height="8.0" fill="#a8d88a"/>
<rect x="314.2" y="449.09" width="7.3" height="8.0" fill="#a8d88a"/>
<rect x="463.0" y="449.09" width="7.8" height="8.0" fill="#a8d88a"/>
<rect x="496.4" y="449.09" width="7.5" height="8.0" fill="#868e77"/>
<rect x="280.3" y="461.53" width="7.5" height="8.0" fill="#008a7c"/>
<rect x="306.1" y="461.53" width="7.6" height="8.0" fill="#ec5b82"/>
<rect x="403.6" y="461.53" width="7.2" height="8.0" fill="#ec5b82"/>
<rect x="416.1" y="461.53" width="7.3" height="8.0" fill="#e8001f"/>
<rect x="429.9" y="461.53" width="7.3" height="8.0" fill="#f99d1c"/>
<rect x="487.1" y="461.53" width="7.5" height="8.0" fill="#f99d1c"/>
<rect x="494.6" y="461.53" width="4.1" height="8.0" fill="#a8d88a"/>
<rect x="498.7" y="461.53" width="1.0" height="8.0" fill="#9994ba"/>
<rect x="499.7" y="461.53" width="7.5" height="8.0" fill="#f99d1c"/>
<rect x="227.6" y="473.98" width="2.5" height="8.0" fill="#9994ba"/>
<rect x="230.1" y="473.98" width="7.8" height="8.0" fill="#6bb142"/>
<rect x="271.5" y="473.98" width="7.5" height="8.0" fill="#6bb142"/>
<rect x="304.4" y="473.98" width="7.5" height="8.0" fill="#868e77"/>
<rect x="464.0" y="473.98" width="7.6" height="8.0" fill="#a8d88a"/>
<rect x="496.4" y="473.98" width="7.5" height="8.0" fill="#868e77"/>
<rect x="236.6" y="486.43" width="7.6" height="8.0" fill="#6bb142"/>
<rect x="267.3" y="486.43" width="7.5" height="8.0" fill="#868e77"/>
<rect x="313.2" y="486.43" width="7.5" height="8.0" fill="#a8d88a"/>
<rect x="465.3" y="486.43" width="7.5" height="8.0" fill="#a8d88a"/>
<rect x="474.1" y="486.43" width="7.5" height="8.0" fill="#9994ba"/>
<rect x="497.4" y="486.43" width="7.5" height="8.0" fill="#868e77"/>
<rect x="239.1" y="498.87" width="7.6" height="8.0" fill="#f9b88e"/>
<rect x="267.3" y="498.87" width="7.5" height="8.0" fill="#f99d1c"/>
<rect x="465.8" y="498.87" width="7.5" height="8.0" fill="#008a7c"/>
<rect x="500.9" y="498.87" width="7.5" height="8.0" fill="#5b4593"/>
<rect x="546.1" y="498.87" width="7.5" height="8.0" fill="#a8d88a"/>
<rect x="229.1" y="511.32" width="7.5" height="8.0" fill="#f99d1c"/>
<rect x="427.6" y="511.32" width="7.6" height="8.0" fill="#008a7c"/>
<rect x="462.8" y="511.32" width="7.5" height="8.0" fill="#5b4593"/>
<rect x="507.9" y="511.32" width="7.3" height="8.0" fill="#a8d88a"/>
<rect x="235.4" y="523.77" width="7.5" height="8.0" fill="#f9b88e"/>
<rect x="263.5" y="523.77" width="7.5" height="8.0" fill="#f99d1c"/>
<rect x="367.9" y="523.77" width="7.5" height="8.0" fill="#9994ba"/>
<rect x="465.8" y="523.77" width="7.5" height="8.0" fill="#008a7c"/>
<rect x="500.9" y="523.77" width="7.5" height="8.0" fill="#5b4593"/>
<rect x="546.1" y="523.77" width="7.5" height="8.0" fill="#a8d88a"/>
<rect x="213.0" y="536.21" width="7.6" height="8.0" fill="#e8001f"/>
<rect x="223.8" y="536.21" width="1.5" height="8.0" fill="#f99d1c"/>
<rect x="225.3" y="536.21" width="7.8" height="8.0" fill="#ec5b82"/>
<rect x="233.1" y="536.21" width="4.0" height="8.0" fill="#008a7c"/>
<rect x="271.0" y="536.21" width="7.5" height="8.0" fill="#f9b88e"/>
<rect x="280.8" y="536.21" width="7.0" height="8.0" fill="#6bb142"/>
<rect x="287.8" y="536.21" width="5.8" height="8.0" fill="#a8d88a"/>
<rect x="309.4" y="536.21" width="7.3" height="8.0" fill="#e8001f"/>
<rect x="316.7" y="536.21" width="2.5" height="8.0" fill="#008a7c"/>
<rect x="427.1" y="536.21" width="7.6" height="8.0" fill="#f99d1c"/>
<rect x="493.9" y="536.21" width="7.3" height="8.0" fill="#e8001f"/>
<rect x="518.0" y="536.21" width="7.5" height="8.0" fill="#008a7c"/>
<rect x="560.6" y="536.21" width="7.6" height="8.0" fill="#f9b88e"/>
<rect x="249.7" y="548.66" width="7.5" height="8.0" fill="#a8d88a"/>
<rect x="266.5" y="548.66" width="7.5" height="8.0" fill="#f99d1c"/>
<rect x="369.6" y="548.66" width="7.6" height="8.0" fill="#008a7c"/>
<rect x="398.0" y="548.66" width="7.6" height="8.0" fill="#e8001f"/>
<rect x="422.9" y="548.66" width="7.3" height="8.0" fill="#f99d1c"/>
<rect x="454.2" y="548.66" width="7.6" height="8.0" fill="#6bb142"/>
<rect x="547.1" y="548.66" width="7.5" height="8.0" fill="#008a7c"/>
<rect x="209.5" y="561.11" width="8.1" height="8.0" fill="#f99d1c"/>
<rect x="217.6" y="561.11" width="3.0" height="8.0" fill="#008a7c"/>
<rect x="246.7" y="561.11" width="7.3" height="8.0" fill="#008a7c"/>
<rect x="286.8" y="561.11" width="7.3" height="8.0" fill="#f9b88e"/>
<rect x="296.4" y="561.11" width="7.2" height="8.0" fill="#6bb142"/>
<rect x="325.5" y="561.11" width="7.5" height="8.0" fill="#a8d88a"/>
<rect x="378.4" y="561.11" width="7.6" height="8.0" fill="#008a7c"/>
<rect x="406.8" y="561.11" width="7.5" height="8.0" fill="#e8001f"/>
<rect x="431.2" y="561.11" width="6.7" height="8.0" fill="#f99d1c"/>
<rect x="437.9" y="561.11" width="7.1" height="8.0" fill="#ffcc00"/>
<rect x="445.0" y="561.11" width="6.0" height="8.0" fill="#008a7c"/>
<rect x="464.3" y="561.11" width="7.5" height="8.0" fill="#6bb142"/>
<rect x="546.1" y="561.11" width="7.5" height="8.0" fill="#008a7c"/>
<rect x="566.9" y="561.11" width="7.5" height="8.0" fill="#ffcc00"/>
<rect x="239.1" y="573.55" width="7.6" height="8.0" fill="#008a7c"/>
<rect x="279.0" y="573.55" width="7.6" height="8.0" fill="#f9b88e"/>
<rect x="286.6" y="573.55" width="7.5" height="8.0" fill="#ec5b82"/>
<rect x="344.3" y="573.55" width="7.5" height="8.0" fill="#a8d88a"/>
<rect x="398.3" y="573.55" width="7.5" height="8.0" fill="#008a7c"/>
<rect x="426.6" y="573.55" width="7.6" height="8.0" fill="#e8001f"/>
<rect x="451.5" y="573.55" width="7.5" height="8.0" fill="#f99d1c"/>
<rect x="469.0" y="573.55" width="7.3" height="8.0" fill="#6bb142"/>
<rect x="482.6" y="573.55" width="7.3" height="8.0" fill="#a8d88a"/>
<rect x="545.1" y="573.55" width="5.8" height="8.0" fill="#008a7c"/>
<rect x="550.9" y="573.55" width="7.2" height="8.0" fill="#a8d88a"/>
<rect x="566.9" y="573.55" width="7.5" height="8.0" fill="#ffcc00"/>
<rect x="239.6" y="586.00" width="7.6" height="8.0" fill="#008a7c"/>
<rect x="279.8" y="586.00" width="7.5" height="8.0" fill="#f9b88e"/>
<rect x="287.3" y="586.00" width="7.6" height="8.0" fill="#ec5b82"/>
<rect x="344.8" y="586.00" width="7.5" height="8.0" fill="#a8d88a"/>
<rect x="398.8" y="586.00" width="7.5" height="8.0" fill="#008a7c"/>
<rect x="427.1" y="586.00" width="7.6" height="8.0" fill="#e8001f"/>
<rect x="452.0" y="586.00" width="7.5" height="8.0" fill="#f99d1c"/>
<rect x="469.3" y="586.00" width="7.5" height="8.0" fill="#6bb142"/>
<rect x="483.1" y="586.00" width="7.5" height="8.0" fill="#a8d88a"/>
<rect x="545.3" y="586.00" width="7.6" height="8.0" fill="#008a7c"/>
<rect x="552.9" y="586.00" width="5.5" height="8.0" fill="#a8d88a"/>
<rect x="566.9" y="586.00" width="7.5" height="8.0" fill="#ffcc00"/>
</g>
<g stroke="#6e6e6e" stroke-width="1"><line x1="208.2" y1="602.5" x2="578.1" y2="602.5"/>
<line x1="208.20" y1="602.5" x2="208.20" y2="606.0"/>
<line x1="245.19" y1="602.5" x2="245.19" y2="606.0"/>
<line x1="282.18" y1="602.5" x2="282.18" y2="606.0"/>
<line x1="319.17" y1="602.5" x2="319.17" y2="606.0"/>
<line x1="356.16" y1="602.5" x2="356.16" y2="606.0"/>
<line x1="393.15" y1="602.5" x2="393.15" y2="606.0"/>
<line x1="430.14" y1="602.5" x2="430.14" y2="606.0"/>
<line x1="467.13" y1="602.5" x2="467.13" y2="606.0"/>
<line x1="504.12" y1="602.5" x2="504.12" y2="606.0"/>
<line x1="541.11" y1="602.5" x2="541.11" y2="606.0"/>
<line x1="578.10" y1="602.5" x2="578.10" y2="606.0"/>
</g>
<g fill="#141414" font-size="8.75" text-anchor="middle">
<text transform="translate(208.50,614.5) scale(1,1.09)">0</text>
<text transform="translate(245.49,614.5) scale(1,1.09)">200</text>
<text transform="translate(282.48,614.5) scale(1,1.09)">400</text>
<text transform="translate(319.47,614.5) scale(1,1.09)">600</text>
<text transform="translate(356.46,614.5) scale(1,1.09)">800</text>
<text transform="translate(393.45,614.5) scale(1,1.09)">1000</text>
<text transform="translate(430.44,614.5) scale(1,1.09)">1200</text>
<text transform="translate(467.43,614.5) scale(1,1.09)">1400</text>
<text transform="translate(504.42,614.5) scale(1,1.09)">1600</text>
<text transform="translate(541.41,614.5) scale(1,1.09)">1800</text>
<text transform="translate(578.40,614.5) scale(1,1.09)">2000</text>
</g>
<text x="200.8" y="604.1" font-size="9" fill="#222">5'</text>
<text x="579.4" y="604.0" font-size="9" fill="#222">3'</text>
<g font-size="8.9" fill="#161616" stroke="#161616" stroke-width="0.12">
<rect x="609" y="1.00" width="24" height="8.1" fill="#6bb142" stroke="none"/>
<text x="637" y="9.70">zein metabolism regulation</text>
<rect x="609" y="13.44" width="24" height="8.1" fill="#ffcc00" stroke="none"/>
<text x="637" y="22.05">salicylic acid responsiveness</text>
<rect x="609" y="25.88" width="24" height="8.1" fill="#ec5b82" stroke="none"/>
<text x="637" y="34.40">drought-inducibility</text>
<rect x="609" y="38.32" width="24" height="8.1" fill="#008a7c" stroke="none"/>
<text x="637" y="46.75">anaerobic induction</text>
<rect x="609" y="50.76" width="24" height="8.1" fill="#e8001f" stroke="none"/>
<text x="637" y="59.10">gibberellin responsiveness</text>
<rect x="609" y="63.20" width="24" height="8.1" fill="#9994ba" stroke="none"/>
<text x="637" y="71.45">low-temperature responsiveness</text>
<rect x="609" y="75.64" width="24" height="8.1" fill="#a8d88a" stroke="none"/>
<text x="637" y="83.80">abscisic acid responsiveness</text>
<rect x="609" y="88.08" width="24" height="8.1" fill="#f99d1c" stroke="none"/>
<text x="637" y="96.15">MeJA-responsiveness</text>
<rect x="609" y="100.52" width="24" height="8.1" fill="#5b4593" stroke="none"/>
<text x="637" y="108.50">wound-responsive element</text>
<rect x="609" y="112.96" width="24" height="8.1" fill="#f9b88e" stroke="none"/>
<text x="637" y="120.85">defense and stress responsiveness</text>
<rect x="609" y="125.40" width="24" height="8.1" fill="#868e77" stroke="none"/>
<text x="637" y="133.20">circadian control</text>
</g>
</svg></body></html>
